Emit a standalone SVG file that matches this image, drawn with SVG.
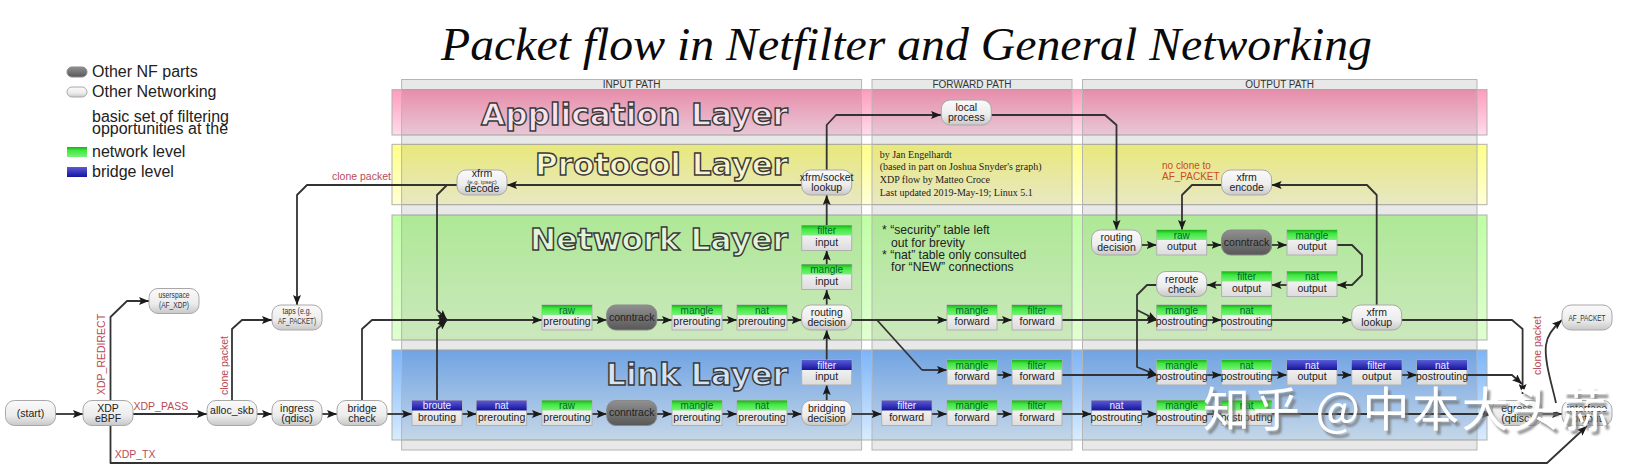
<svg xmlns="http://www.w3.org/2000/svg" width="1650" height="475" viewBox="0 0 1650 475">
<style>
text{font-family:"Liberation Sans",Arial,sans-serif;fill:#222}
.ttl{font-family:"Liberation Serif","Times New Roman",serif;font-style:italic;font-size:47px;fill:#0a0a0a}
.lg{font-size:16px}
.lbl{font-size:10.5px;fill:#b94a55}
.org{font-size:10px;fill:#cf4a14}
.p{font-size:10px;text-anchor:middle;fill:#333}
.pn{fill:#000;fill-opacity:.09;stroke:#b5b5b5;stroke-width:1}
.ly{stroke:#b0b0a8;stroke-width:1}
.lt{font-family:"DejaVu Sans",sans-serif;font-weight:bold;font-size:31px;stroke:#3a3a3a;stroke-width:1.4}
.lta{fill:#f8e2ec}.ltp{fill:#f8f5cc}.ltn{fill:#e0f5d6}.ltl{fill:#d2e4f7}
.cr{font-family:"Liberation Serif",serif;font-size:10px;fill:#222}
.nt{font-size:12.2px;fill:#222}
.l{font-size:10.5px;text-anchor:middle}
.h{font-size:10px;text-anchor:middle;fill:#063}
.hb{font-size:10px;text-anchor:middle;fill:#eef}
.s{font-size:9px;text-anchor:middle;fill:#333}
.c{fill:none;stroke:#333;stroke-width:1.8;stroke-linejoin:round}
.a{marker-end:url(#a)}
.wm{font-family:"Noto Sans CJK SC","Noto Sans",sans-serif;font-size:47px;fill:#fff;filter:url(#sh)}
</style>
<defs>
<linearGradient id="gA" x1="0" y1="0" x2="0" y2="1"><stop offset="0" stop-color="#ff9cbc"/><stop offset="1" stop-color="#ffdcec"/></linearGradient>
<linearGradient id="gP" x1="0" y1="0" x2="0" y2="1"><stop offset="0" stop-color="#ffff88"/><stop offset="1" stop-color="#ffffd8"/></linearGradient>
<linearGradient id="gN" x1="0" y1="0" x2="0" y2="1"><stop offset="0" stop-color="#c0ffa6"/><stop offset="1" stop-color="#e0ffd0"/></linearGradient>
<linearGradient id="gL" x1="0" y1="0" x2="0" y2="1"><stop offset="0" stop-color="#7cb4fa"/><stop offset="1" stop-color="#d8ecff"/></linearGradient>
<linearGradient id="gn" x1="0" y1="0" x2="0" y2="1"><stop offset="0" stop-color="#fafafa"/><stop offset=".6" stop-color="#ececec"/><stop offset="1" stop-color="#c8c8c8"/></linearGradient>
<linearGradient id="gd" x1="0" y1="0" x2="0" y2="1"><stop offset="0" stop-color="#909090"/><stop offset="1" stop-color="#585858"/></linearGradient>
<linearGradient id="gg" x1="0" y1="0" x2="0" y2="1"><stop offset="0" stop-color="#1cae1c"/><stop offset=".35" stop-color="#3ee83e"/><stop offset="1" stop-color="#7cf07c"/></linearGradient>
<linearGradient id="gb" x1="0" y1="0" x2="0" y2="1"><stop offset="0" stop-color="#5a5ad6"/><stop offset="1" stop-color="#14149e"/></linearGradient>
<linearGradient id="gt" x1="0" y1="0" x2="0" y2="1"><stop offset="0" stop-color="#ffffff"/><stop offset="1" stop-color="#dcdcdc"/></linearGradient>
<marker id="a" markerUnits="userSpaceOnUse" markerWidth="10" markerHeight="8" refX="10" refY="4" orient="auto"><path d="M0 0L10 4L0 8L2 4z" fill="#1a1a1a"/></marker>
<filter id="sh" x="-5%" y="-20%" width="110%" height="140%"><feDropShadow dx="3" dy="4" stdDeviation="1" flood-color="#777" flood-opacity=".8"/></filter>
<rect id="nr" x="-25" y="-12.5" width="50" height="25" rx="9" fill="url(#gn)" stroke="#a8a8a8"/>
<rect id="nd" x="-25" y="-12.5" width="50" height="25" rx="9" fill="url(#gd)" stroke="#888"/>
<g id="tg"><rect x="-25" y="-12.5" width="50" height="25" fill="url(#gt)" stroke="#b0b0b0"/><rect x="-25" y="-12.5" width="50" height="10" fill="url(#gg)"/></g>
<g id="tb"><rect x="-25" y="-12.5" width="50" height="25" fill="url(#gt)" stroke="#b0b0b0"/><rect x="-25" y="-12.5" width="50" height="10" fill="url(#gb)"/></g>
</defs>
<rect width="1650" height="475" fill="#fff"/>
<text class="ttl" x="441" y="60" textLength="931" lengthAdjust="spacingAndGlyphs">Packet flow in Netfilter and General Networking</text>
<g id="legend">
<rect x="67" y="67" width="20" height="10" rx="5" fill="url(#gd)" stroke="#888"/><text class="lg" x="92" y="77">Other NF parts</text>
<rect x="67" y="87" width="20" height="10" rx="5" fill="url(#gn)" stroke="#aaa"/><text class="lg" x="92" y="97">Other Networking</text>
<text class="lg" x="92" y="122">basic set of filtering</text><text class="lg" x="92" y="133.5">opportunities at the</text>
<rect x="67" y="147" width="20" height="10" fill="url(#gg)"/><text class="lg" x="92" y="157">network level</text>
<rect x="67" y="167" width="20" height="10" fill="url(#gb)"/><text class="lg" x="92" y="177">bridge level</text>
</g>
<g id="layers">
<rect class="ly" x="392" y="89.7" width="1095" height="45.3" fill="url(#gA)"/>
<rect class="ly" x="392" y="144.3" width="1095" height="60.4" fill="url(#gP)"/>
<rect class="ly" x="392" y="215" width="1095" height="125" fill="url(#gN)"/>
<rect class="ly" x="392" y="350" width="1095" height="90" fill="url(#gL)"/>
</g>
<g id="paths">
<rect class="pn" x="401.6" y="79.5" width="460" height="370.5"/>
<rect class="pn" x="872" y="79.5" width="200" height="370.5"/>
<rect class="pn" x="1082.5" y="79.5" width="394.5" height="370.5"/>
<text class="p" x="631.7" y="88">INPUT PATH</text>
<text class="p" x="972" y="88">FORWARD PATH</text>
<text class="p" x="1279.6" y="88">OUTPUT PATH</text>
</g>
<g id="layer-titles">
<text class="lt lta" x="481" y="125" textLength="307" lengthAdjust="spacingAndGlyphs">Application Layer</text>
<text class="lt ltp" x="535" y="175" textLength="253" lengthAdjust="spacingAndGlyphs">Protocol Layer</text>
<text class="lt ltn" x="530" y="250" textLength="258" lengthAdjust="spacingAndGlyphs">Network Layer</text>
<text class="lt ltl" x="606" y="385" textLength="182" lengthAdjust="spacingAndGlyphs">Link Layer</text>
</g>
<g id="notes">
<text class="cr" x="879.7" y="157.7">by Jan Engelhardt</text>
<text class="cr" x="879.7" y="170.2">(based in part on Joshua Snyder's graph)</text>
<text class="cr" x="879.7" y="182.9">XDP flow by Matteo Croce</text>
<text class="cr" x="879.7" y="195.7">Last updated 2019-May-19; Linux 5.1</text>
<text class="nt" x="882" y="234">* “security” table left</text>
<text class="nt" x="891" y="246.5">out for brevity</text>
<text class="nt" x="882" y="258.5">* “nat” table only consulted</text>
<text class="nt" x="891" y="270.5">for “NEW” connections</text>
</g>
<g id="connectors">
<path class="c a" d="M55.5 414H83"/>
<path class="c a" d="M133 414H207"/>
<path class="c a" d="M110.5 401V317L127 301H149"/>
<path class="c a" d="M110.5 425V463H1547L1587 426"/>
<path class="c a" d="M232 401V329L242 320H272"/>
<path class="c a" d="M257 414H272"/>
<path class="c a" d="M322 414H337"/>
<path class="c a" d="M387 414H412"/>
<path class="c a" d="M462 414H476.6"/>
<path class="c a" d="M526.6 414H542"/>
<path class="c a" d="M592 414H606.7"/>
<path class="c a" d="M656.7 414H672"/>
<path class="c a" d="M722 414H737"/>
<path class="c a" d="M787 414H801.7"/>
<path class="c a" d="M362 401V329L372 320H448"/>
<path class="c a" d="M437 401V329L447 320"/>
<path class="c a" d="M457 185H447L437 195V310L447 320"/>
<path class="c a" d="M457 185H307L297 195V305"/>
<path class="c a" d="M447 320H542"/>
<path class="c a" d="M802 185H507"/>
<path class="c a" d="M826.7 170V125L836 115H941"/>
<path class="c a" d="M991 115H1105L1116.5 125V230"/>
<path class="c a" d="M592 320H606.7"/>
<path class="c a" d="M656.7 320H672"/>
<path class="c a" d="M722 320H737"/>
<path class="c a" d="M787 320H801.7"/>
<path class="c a" d="M826.7 305V290"/>
<path class="c a" d="M826.7 264V250.5"/>
<path class="c a" d="M826.7 225.5V195"/>
<path class="c a" d="M826.7 401V385"/>
<path class="c a" d="M826.7 360V330"/>
<path class="c a" d="M851.7 320H947"/>
<path class="c" d="M877 320L922 370"/>
<path class="c a" d="M922 370H947"/>
<path class="c a" d="M997 320H1012"/>
<path class="c a" d="M1062 320H1157"/>
<path class="c a" d="M1207 320H1221.6"/>
<path class="c a" d="M1271.6 320H1351.7"/>
<path class="c a" d="M1401.7 320H1512L1522.6 329V394"/>
<path class="c a" d="M997 375H1012"/>
<path class="c a" d="M1062 375H1157"/>
<path class="c a" d="M1207 375H1221.6"/>
<path class="c a" d="M1271.6 375H1287"/>
<path class="c a" d="M1337 375H1351.7"/>
<path class="c a" d="M1401.7 375H1417"/>
<path class="c a" d="M1467 375H1512L1522 384"/>
<path class="c a" d="M851.7 414H881.7"/>
<path class="c a" d="M931.7 414H947"/>
<path class="c a" d="M997 414H1012"/>
<path class="c a" d="M1062 414H1091.5"/>
<path class="c a" d="M1141.5 414H1157"/>
<path class="c a" d="M1207 414H1221.6"/>
<path class="c a" d="M1271.6 414H1492"/>
<path class="c a" d="M1542 414H1562"/>
<path class="c a" d="M1141.5 245H1156.7"/>
<path class="c a" d="M1206.7 245H1221.6"/>
<path class="c a" d="M1271.6 245H1287"/>
<path class="c a" d="M1337 245H1352L1362 255V275L1352 285H1337"/>
<path class="c a" d="M1287 285H1271.6"/>
<path class="c a" d="M1221.6 285H1206.7"/>
<path class="c a" d="M1156.7 285H1147L1137 295V367L1157 375"/>
<path class="c a" d="M1137 310L1157 320"/>
<path class="c a" d="M1376.7 305V195L1367 185H1271.6"/>
<path class="c a" d="M1221.6 185H1192L1182 195V230"/>
<path class="c a" d="M1556 403C1552 385 1544 360 1546 345C1547 335 1555 326 1562 320"/>
</g>
<g id="edge-labels">
<text class="lbl" x="133.5" y="409.7">XDP_PASS</text>
<text class="lbl" x="114.7" y="458">XDP_TX</text>
<text class="lbl" transform="translate(104.5,395) rotate(-90)">XDP_REDIRECT</text>
<text class="lbl" transform="translate(228,395) rotate(-90)">clone packet</text>
<text class="lbl" x="332" y="180">clone packet</text>
<text class="lbl" transform="translate(1541,375) rotate(-90)">clone packet</text>
<text class="org" x="1162" y="169">no clone to</text>
<text class="org" x="1162" y="179.5">AF_PACKET</text>
</g>
<g id="nodes">
<g id="start" transform="translate(30.5,413)"><use href="#nr"/><text class="l" y="4">(start)</text></g>
<g id="xdp" transform="translate(108,413)"><use href="#nr"/><text class="l" y="-1.5">XDP</text><text class="l" y="8.5">eBPF</text></g>
<g id="userspace" transform="translate(174,301)"><use href="#nr"/><text class="s" y="-3" textLength="31" lengthAdjust="spacingAndGlyphs">userspace</text><text class="s" y="7" textLength="30" lengthAdjust="spacingAndGlyphs">(AF_XDP)</text></g>
<g id="alloc" transform="translate(232,413)"><use href="#nr"/><text class="l" y="1">alloc_skb</text></g>
<g id="taps" transform="translate(297,317.5)"><use href="#nr"/><text class="s" y="-3.5" textLength="29" lengthAdjust="spacingAndGlyphs">taps (e.g.</text><text class="s" y="6.5" textLength="38" lengthAdjust="spacingAndGlyphs">AF_PACKET)</text></g>
<g id="ingress" transform="translate(297,413)"><use href="#nr"/><text class="l" y="-1.5">ingress</text><text class="l" y="8.5">(qdisc)</text></g>
<g id="bridge" transform="translate(362,413)"><use href="#nr"/><text class="l" y="-1.5">bridge</text><text class="l" y="8.5">check</text></g>
<g id="xfrm-decode" transform="translate(482,182.5)"><use href="#nr"/><text class="l" y="-5.5">xfrm</text><text class="s" y="1.5" style="font-size:6px">(e.g. ipsec)</text><text class="l" y="9.5">decode</text></g>
<g id="xfrm-socket" transform="translate(826.7,182.5)"><use href="#nr"/><text class="l" y="-1.5">xfrm/socket</text><text class="l" y="8.5">lookup</text></g>
<g id="local" transform="translate(966.3,112.5)"><use href="#nr"/><text class="l" y="-1.5">local</text><text class="l" y="8.5">process</text></g>
<g id="broute" transform="translate(437,413)"><use href="#tb"/><text class="hb" y="-4">broute</text><text class="l" y="7.5">brouting</text></g>
<g id="br-nat-pre" transform="translate(501.6,413)"><use href="#tb"/><text class="hb" y="-4">nat</text><text class="l" y="7.5">prerouting</text></g>
<g id="br-raw-pre" transform="translate(567,413)"><use href="#tg"/><text class="h" y="-4">raw</text><text class="l" y="7.5">prerouting</text></g>
<g id="br-conntrack" transform="translate(631.7,413)"><use href="#nd"/><text class="l" y="3">conntrack</text></g>
<g id="br-mangle-pre" transform="translate(697,413)"><use href="#tg"/><text class="h" y="-4">mangle</text><text class="l" y="7.5">prerouting</text></g>
<g id="br-natg-pre" transform="translate(762,413)"><use href="#tg"/><text class="h" y="-4">nat</text><text class="l" y="7.5">prerouting</text></g>
<g id="bridging" transform="translate(826.7,413)"><use href="#nr"/><text class="l" y="-1.5">bridging</text><text class="l" y="8.5">decision</text></g>
<g id="br-filter-in" transform="translate(826.7,372.5)"><use href="#tb"/><text class="hb" y="-4">filter</text><text class="l" y="7.5">input</text></g>
<g id="net-raw-pre" transform="translate(567,317.5)"><use href="#tg"/><text class="h" y="-4">raw</text><text class="l" y="7.5">prerouting</text></g>
<g id="net-conntrack" transform="translate(631.7,317.5)"><use href="#nd"/><text class="l" y="3">conntrack</text></g>
<g id="net-mangle-pre" transform="translate(697,317.5)"><use href="#tg"/><text class="h" y="-4">mangle</text><text class="l" y="7.5">prerouting</text></g>
<g id="net-nat-pre" transform="translate(762,317.5)"><use href="#tg"/><text class="h" y="-4">nat</text><text class="l" y="7.5">prerouting</text></g>
<g id="routing" transform="translate(826.7,317.5)"><use href="#nr"/><text class="l" y="-1.5">routing</text><text class="l" y="8.5">decision</text></g>
<g id="mangle-in" transform="translate(826.7,277)"><use href="#tg"/><text class="h" y="-4">mangle</text><text class="l" y="7.5">input</text></g>
<g id="filter-in" transform="translate(826.7,238)"><use href="#tg"/><text class="h" y="-4">filter</text><text class="l" y="7.5">input</text></g>
<g id="fw1-mangle" transform="translate(972,317.5)"><use href="#tg"/><text class="h" y="-4">mangle</text><text class="l" y="7.5">forward</text></g>
<g id="fw1-filter" transform="translate(1037,317.5)"><use href="#tg"/><text class="h" y="-4">filter</text><text class="l" y="7.5">forward</text></g>
<g id="fw2-mangle" transform="translate(972,372.5)"><use href="#tg"/><text class="h" y="-4">mangle</text><text class="l" y="7.5">forward</text></g>
<g id="fw2-filter" transform="translate(1037,372.5)"><use href="#tg"/><text class="h" y="-4">filter</text><text class="l" y="7.5">forward</text></g>
<g id="fw3-bfilter" transform="translate(906.7,413)"><use href="#tb"/><text class="hb" y="-4">filter</text><text class="l" y="7.5">forward</text></g>
<g id="fw3-mangle" transform="translate(972,413)"><use href="#tg"/><text class="h" y="-4">mangle</text><text class="l" y="7.5">forward</text></g>
<g id="fw3-filter" transform="translate(1037,413)"><use href="#tg"/><text class="h" y="-4">filter</text><text class="l" y="7.5">forward</text></g>
<g id="routing-out" transform="translate(1116.5,242.5)"><use href="#nr"/><text class="l" y="-1.5">routing</text><text class="l" y="8.5">decision</text></g>
<g id="raw-out" transform="translate(1181.7,242.5)"><use href="#tg"/><text class="h" y="-4">raw</text><text class="l" y="7.5">output</text></g>
<g id="conntrack-out" transform="translate(1246.6,242.5)"><use href="#nd"/><text class="l" y="3">conntrack</text></g>
<g id="mangle-out" transform="translate(1312,242.5)"><use href="#tg"/><text class="h" y="-4">mangle</text><text class="l" y="7.5">output</text></g>
<g id="nat-out" transform="translate(1312,284)"><use href="#tg"/><text class="h" y="-4">nat</text><text class="l" y="7.5">output</text></g>
<g id="filter-out" transform="translate(1246.6,284)"><use href="#tg"/><text class="h" y="-4">filter</text><text class="l" y="7.5">output</text></g>
<g id="reroute" transform="translate(1181.7,284)"><use href="#nr"/><text class="l" y="-1.5">reroute</text><text class="l" y="8.5">check</text></g>
<g id="xfrm-encode" transform="translate(1246.6,182.5)"><use href="#nr"/><text class="l" y="-1.5">xfrm</text><text class="l" y="8.5">encode</text></g>
<g id="post1-mangle" transform="translate(1181.7,317.5)"><use href="#tg"/><text class="h" y="-4">mangle</text><text class="l" y="7.5">postrouting</text></g>
<g id="post1-nat" transform="translate(1246.6,317.5)"><use href="#tg"/><text class="h" y="-4">nat</text><text class="l" y="7.5">postrouting</text></g>
<g id="xfrm-lookup" transform="translate(1376.7,317.5)"><use href="#nr"/><text class="l" y="-1.5">xfrm</text><text class="l" y="8.5">lookup</text></g>
<g id="post2-mangle" transform="translate(1181.7,372.5)"><use href="#tg"/><text class="h" y="-4">mangle</text><text class="l" y="7.5">postrouting</text></g>
<g id="post2-nat" transform="translate(1246.6,372.5)"><use href="#tg"/><text class="h" y="-4">nat</text><text class="l" y="7.5">postrouting</text></g>
<g id="br-nat-out" transform="translate(1312,372.5)"><use href="#tb"/><text class="hb" y="-4">nat</text><text class="l" y="7.5">output</text></g>
<g id="br-filter-out" transform="translate(1376.7,372.5)"><use href="#tb"/><text class="hb" y="-4">filter</text><text class="l" y="7.5">output</text></g>
<g id="br-nat-post" transform="translate(1442,372.5)"><use href="#tb"/><text class="hb" y="-4">nat</text><text class="l" y="7.5">postrouting</text></g>
<g id="post3-bnat" transform="translate(1116.5,413)"><use href="#tb"/><text class="hb" y="-4">nat</text><text class="l" y="7.5">postrouting</text></g>
<g id="post3-mangle" transform="translate(1181.7,413)"><use href="#tg"/><text class="h" y="-4">mangle</text><text class="l" y="7.5">postrouting</text></g>
<g id="post3-nat" transform="translate(1246.6,413)"><use href="#tg"/><text class="h" y="-4">nat</text><text class="l" y="7.5">postrouting</text></g>
<g id="egress" transform="translate(1517,413)"><use href="#nr"/><text class="l" y="-1.5">egress</text><text class="l" y="8.5">(qdisc)</text></g>
<g id="iface" transform="translate(1587,413)"><use href="#nr"/><text class="l" y="-1.5">interface</text><text class="l" y="8.5">output</text></g>
<g id="af-packet" transform="translate(1587,317.5)"><use href="#nr"/><text class="s" y="3" textLength="37" lengthAdjust="spacingAndGlyphs">AF_PACKET</text></g>
</g>
<text class="wm" x="1203" y="426" textLength="405" lengthAdjust="spacing">知乎 @中本大头蒜</text>
</svg>
